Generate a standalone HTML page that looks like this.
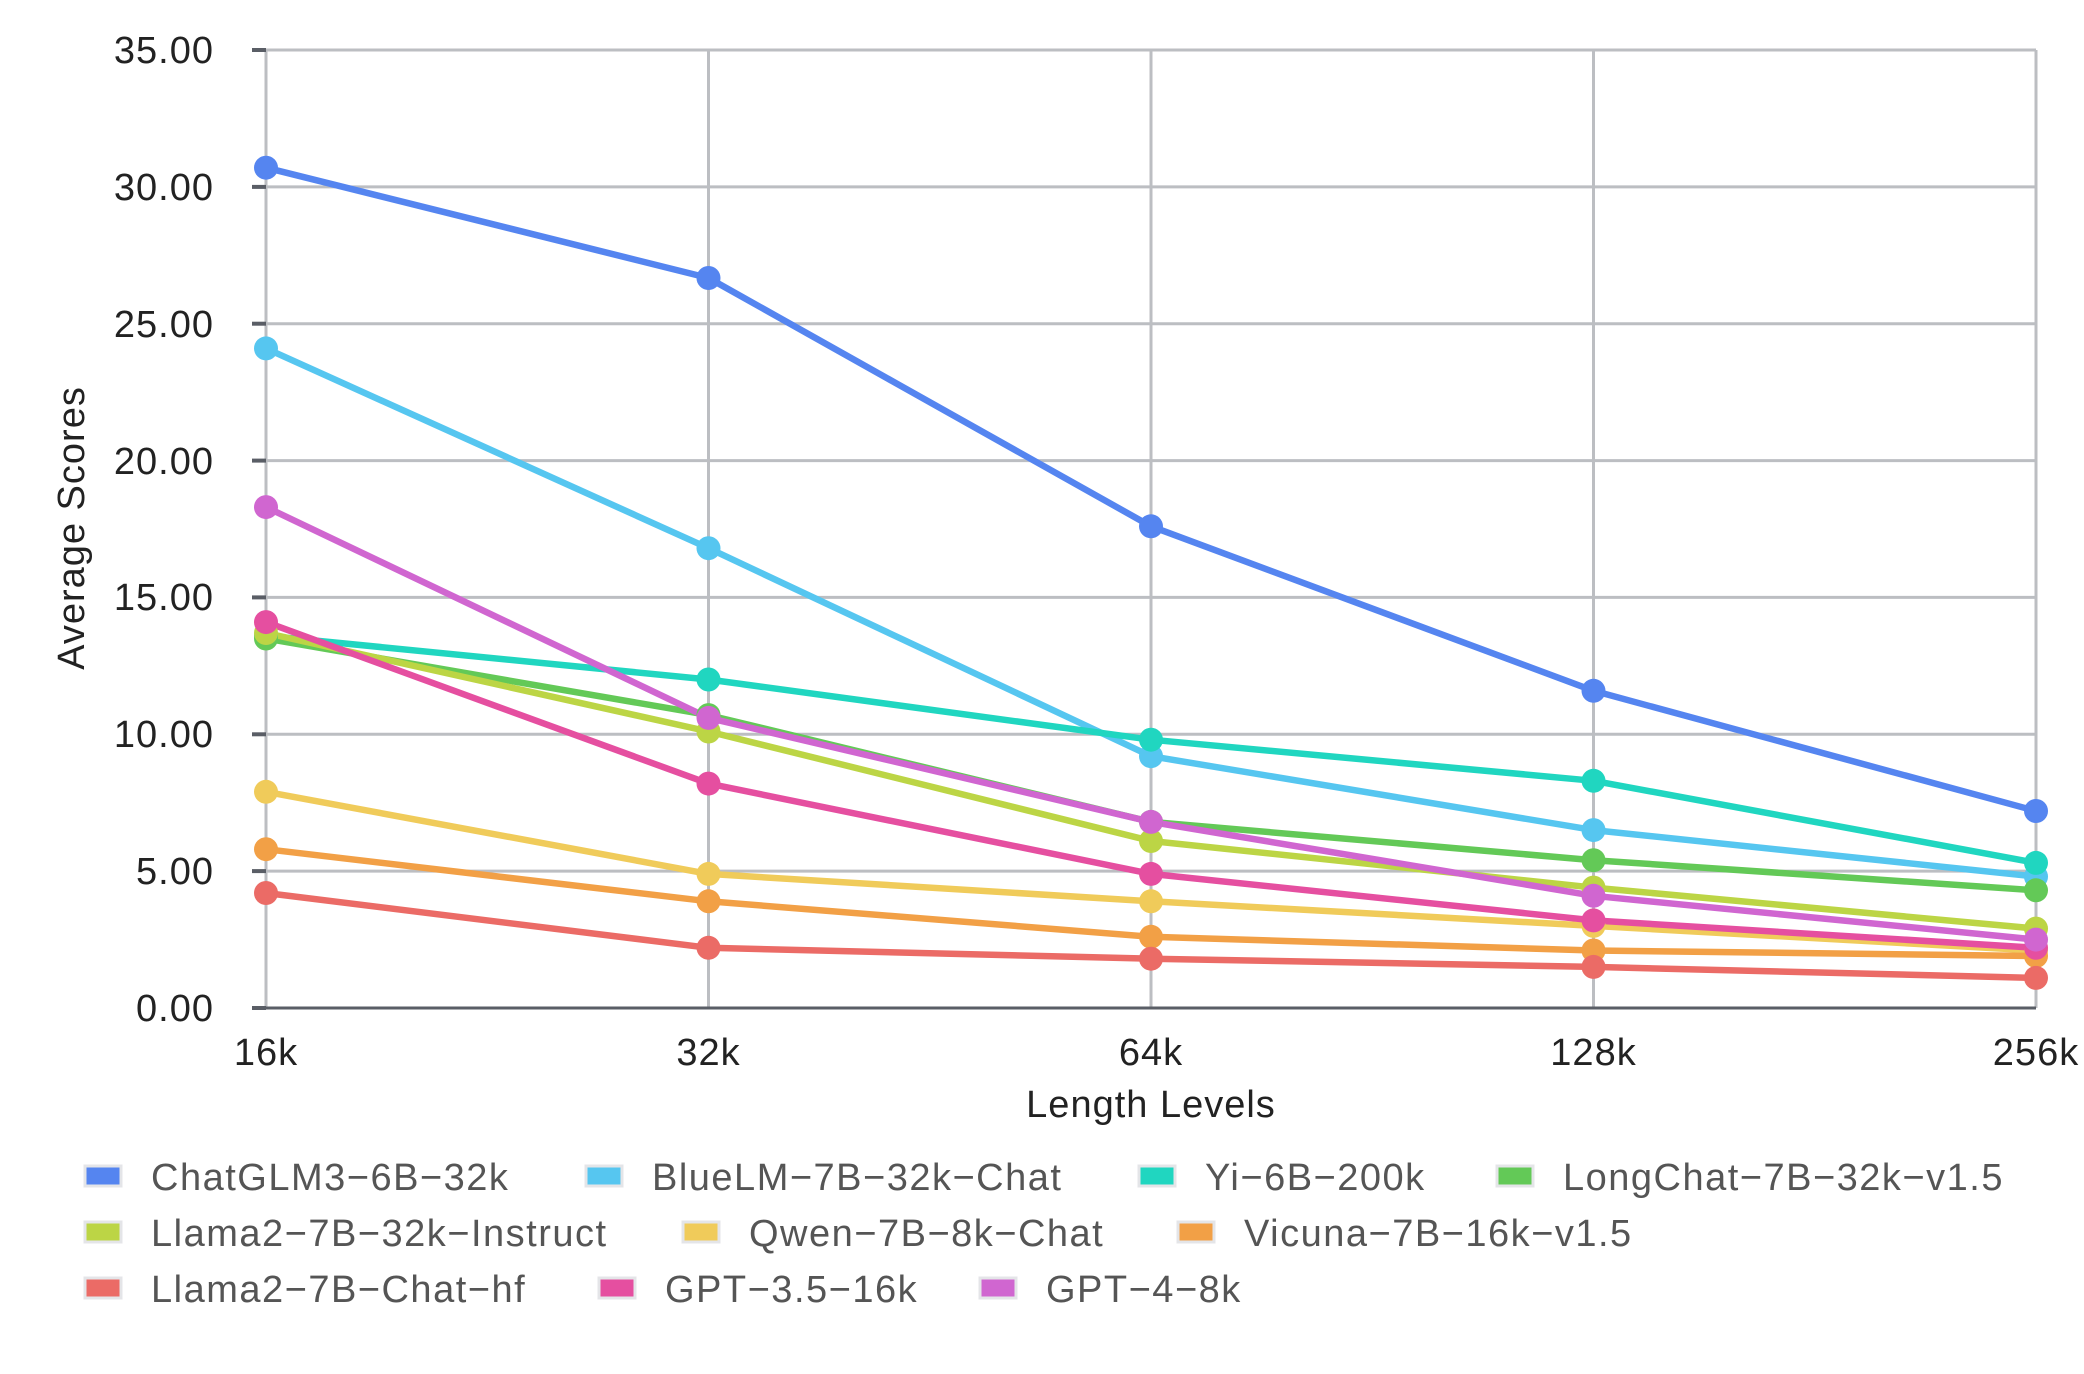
<!DOCTYPE html>
<html><head><meta charset="utf-8"><style>
html,body{margin:0;padding:0;background:#fff;}
svg{display:block;}
text{font-family:"Liberation Sans",sans-serif;}
</style></head><body>
<svg width="2084" height="1374" xmlns="http://www.w3.org/2000/svg">
<rect width="2084" height="1374" fill="#fff"/>
<g stroke="#bcbec2" stroke-width="3">
<line x1="266" y1="50" x2="2036" y2="50"/>
<line x1="266" y1="186.9" x2="2036" y2="186.9"/>
<line x1="266" y1="323.7" x2="2036" y2="323.7"/>
<line x1="266" y1="460.6" x2="2036" y2="460.6"/>
<line x1="266" y1="597.4" x2="2036" y2="597.4"/>
<line x1="266" y1="734.3" x2="2036" y2="734.3"/>
<line x1="266" y1="871.1" x2="2036" y2="871.1"/>
<line x1="266" y1="50" x2="266" y2="1008"/>
<line x1="708.5" y1="50" x2="708.5" y2="1008"/>
<line x1="1151" y1="50" x2="1151" y2="1008"/>
<line x1="1593.5" y1="50" x2="1593.5" y2="1008"/>
<line x1="2036" y1="50" x2="2036" y2="1008"/>
</g>
<line x1="266" y1="1008" x2="2036" y2="1008" stroke="#5a5e66" stroke-width="3"/>
<g stroke="#5a5e66" stroke-width="4">
<line x1="252" y1="50" x2="266" y2="50"/><line x1="252" y1="186.9" x2="266" y2="186.9"/>
<line x1="252" y1="323.7" x2="266" y2="323.7"/><line x1="252" y1="460.6" x2="266" y2="460.6"/>
<line x1="252" y1="597.4" x2="266" y2="597.4"/><line x1="252" y1="734.3" x2="266" y2="734.3"/>
<line x1="252" y1="871.1" x2="266" y2="871.1"/><line x1="252" y1="1008" x2="266" y2="1008"/>
</g>
<g font-size="38" fill="#222" text-anchor="end" letter-spacing="1">
<text x="214" y="63">35.00</text><text x="214" y="200">30.00</text><text x="214" y="337">25.00</text>
<text x="214" y="474">20.00</text><text x="214" y="610">15.00</text><text x="214" y="747">10.00</text>
<text x="214" y="884">5.00</text><text x="214" y="1021">0.00</text>
</g>
<g font-size="38" fill="#222" text-anchor="middle" letter-spacing="1">
<text x="266" y="1065">16k</text><text x="708.5" y="1065">32k</text><text x="1151" y="1065">64k</text>
<text x="1593.5" y="1065">128k</text><text x="2036" y="1065">256k</text>
<text x="1151" y="1117">Length Levels</text>
<text transform="translate(84,528) rotate(-90)">Average Scores</text>
</g>
<g fill="none" stroke-width="6.5" stroke-linejoin="round">
<polyline stroke="#5585f0" points="266,167.7 708.5,278 1151,526.3 1593.5,690.8 2036,811"/>
<polyline stroke="#56c6f0" points="266,348.4 708.5,548.2 1151,756.2 1593.5,830.1 2036,876.6"/>
<polyline stroke="#20d6c0" points="266,635.7 708.5,679.5 1151,739.7 1593.5,780.8 2036,862.9"/>
<polyline stroke="#63c957" points="266,638.5 708.5,715.1 1151,821.9 1593.5,860.2 2036,890.3"/>
<polyline stroke="#bcd545" points="266,633 708.5,731.5 1151,841 1593.5,887.6 2036,928.6"/>
<polyline stroke="#f0cb5a" points="266,791.8 708.5,873.9 1151,901.3 1593.5,925.9 2036,950.5"/>
<polyline stroke="#f2a046" points="266,849.2 708.5,901.3 1151,936.8 1593.5,950.5 2036,956"/>
<polyline stroke="#eb6b66" points="266,893 708.5,947.8 1151,958.7 1593.5,966.9 2036,977.9"/>
<polyline stroke="#e54fa0" points="266,622.1 708.5,783.6 1151,873.9 1593.5,920.4 2036,947.8"/>
<polyline stroke="#d066d0" points="266,507.1 708.5,717.9 1151,821.9 1593.5,895.8 2036,939.6"/>
</g>
<g>
<g fill="#5585f0"><circle cx="266" cy="167.7" r="12"/><circle cx="708.5" cy="278" r="12"/><circle cx="1151" cy="526.3" r="12"/><circle cx="1593.5" cy="690.8" r="12"/><circle cx="2036" cy="811" r="12"/></g>
<g fill="#56c6f0"><circle cx="266" cy="348.4" r="12"/><circle cx="708.5" cy="548.2" r="12"/><circle cx="1151" cy="756.2" r="12"/><circle cx="1593.5" cy="830.1" r="12"/><circle cx="2036" cy="876.6" r="12"/></g>
<g fill="#20d6c0"><circle cx="266" cy="635.7" r="12"/><circle cx="708.5" cy="679.5" r="12"/><circle cx="1151" cy="739.7" r="12"/><circle cx="1593.5" cy="780.8" r="12"/><circle cx="2036" cy="862.9" r="12"/></g>
<g fill="#63c957"><circle cx="266" cy="638.5" r="12"/><circle cx="708.5" cy="715.1" r="12"/><circle cx="1151" cy="821.9" r="12"/><circle cx="1593.5" cy="860.2" r="12"/><circle cx="2036" cy="890.3" r="12"/></g>
<g fill="#bcd545"><circle cx="266" cy="633" r="12"/><circle cx="708.5" cy="731.5" r="12"/><circle cx="1151" cy="841" r="12"/><circle cx="1593.5" cy="887.6" r="12"/><circle cx="2036" cy="928.6" r="12"/></g>
<g fill="#f0cb5a"><circle cx="266" cy="791.8" r="12"/><circle cx="708.5" cy="873.9" r="12"/><circle cx="1151" cy="901.3" r="12"/><circle cx="1593.5" cy="925.9" r="12"/><circle cx="2036" cy="950.5" r="12"/></g>
<g fill="#f2a046"><circle cx="266" cy="849.2" r="12"/><circle cx="708.5" cy="901.3" r="12"/><circle cx="1151" cy="936.8" r="12"/><circle cx="1593.5" cy="950.5" r="12"/><circle cx="2036" cy="956" r="12"/></g>
<g fill="#eb6b66"><circle cx="266" cy="893" r="12"/><circle cx="708.5" cy="947.8" r="12"/><circle cx="1151" cy="958.7" r="12"/><circle cx="1593.5" cy="966.9" r="12"/><circle cx="2036" cy="977.9" r="12"/></g>
<g fill="#e54fa0"><circle cx="266" cy="622.1" r="12"/><circle cx="708.5" cy="783.6" r="12"/><circle cx="1151" cy="873.9" r="12"/><circle cx="1593.5" cy="920.4" r="12"/><circle cx="2036" cy="947.8" r="12"/></g>
<g fill="#d066d0"><circle cx="266" cy="507.1" r="12"/><circle cx="708.5" cy="717.9" r="12"/><circle cx="1151" cy="821.9" r="12"/><circle cx="1593.5" cy="895.8" r="12"/><circle cx="2036" cy="939.6" r="12"/></g>
</g>
<g stroke="#e4e5e8" stroke-width="3">
<rect x="85" y="1166" width="36" height="20" fill="#5585f0"/>
<rect x="586" y="1166" width="36" height="20" fill="#56c6f0"/>
<rect x="1139" y="1166" width="36" height="20" fill="#20d6c0"/>
<rect x="1497" y="1166" width="36" height="20" fill="#63c957"/>
<rect x="85" y="1222" width="36" height="20" fill="#bcd545"/>
<rect x="683" y="1222" width="36" height="20" fill="#f0cb5a"/>
<rect x="1178" y="1222" width="36" height="20" fill="#f2a046"/>
<rect x="85" y="1278" width="36" height="20" fill="#eb6b66"/>
<rect x="599" y="1278" width="36" height="20" fill="#e54fa0"/>
<rect x="980" y="1278" width="36" height="20" fill="#d066d0"/>
</g>
<g font-size="38" fill="#555" letter-spacing="1.5">
<text x="151" y="1190">ChatGLM3−6B−32k</text>
<text x="652" y="1190">BlueLM−7B−32k−Chat</text>
<text x="1205" y="1190">Yi−6B−200k</text>
<text x="1563" y="1190">LongChat−7B−32k−v1.5</text>
<text x="151" y="1246">Llama2−7B−32k−Instruct</text>
<text x="749" y="1246">Qwen−7B−8k−Chat</text>
<text x="1244" y="1246">Vicuna−7B−16k−v1.5</text>
<text x="151" y="1302">Llama2−7B−Chat−hf</text>
<text x="665" y="1302">GPT−3.5−16k</text>
<text x="1046" y="1302">GPT−4−8k</text>
</g>
</svg>
</body></html>
